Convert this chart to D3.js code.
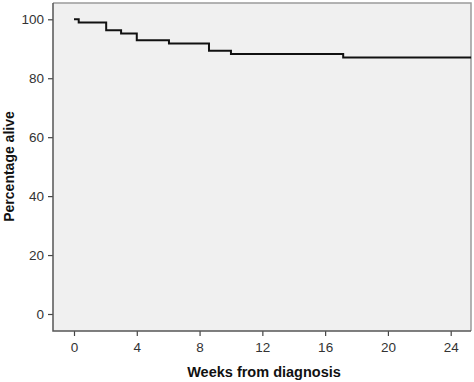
<!DOCTYPE html>
<html>
<head>
<meta charset="utf-8">
<script src="https://cdn.jsdelivr.net/npm/d3@7"></script>
<style>
  body { margin: 0; background: #fff; }
  text { font-family: "Liberation Sans", Arial, sans-serif; }
</style>
</head>
<body>
<div id="graph"></div>
<script>
const width = 474, height = 382;

// survival steps: week of the drop and percentage alive after it
const weeks = [0, 0.3, 2.05, 3.0, 4.0, 6.05, 8.6, 10.0, 17.15];
const alive = [100, 98.9, 96.3, 95.2, 92.9, 91.8, 89.3, 88.2, 87.0];
const endWeek = 25.3;
const xTicks = [0, 4, 8, 12, 16, 20, 24];
const yTicks = [0, 20, 40, 60, 80, 100];

const plot = {left: 53, top: 3, right: 471, bottom: 331};

let svg = d3.select("#graph")
    .append("svg")
    .attr("width", width)
    .attr("height", height);

let x = d3.scaleLinear()
    .domain([0, 24])
    .range([74, 450.7]);

let y = d3.scaleLinear()
    .domain([0, 100])
    .range([314, 19.3]);

// plot background
svg.append("rect")
    .attr("x", plot.left)
    .attr("y", plot.top)
    .attr("width", plot.right - plot.left)
    .attr("height", plot.bottom - plot.top)
    .attr("fill", "#f0f0f0");

// top and right border (lighter)
svg.append("path")
    .attr("d", `M${plot.left},${plot.top}H${plot.right}V${plot.bottom}`)
    .attr("fill", "none")
    .attr("stroke", "#9a9a9a")
    .attr("stroke-width", 1.5);

let x_axis = svg.append("g")
    .attr("transform", `translate(0, ${plot.bottom})`)
    .call(d3.axisBottom(x).tickValues(xTicks).tickSize(5).tickPadding(6).tickSizeOuter(0));

let y_axis = svg.append("g")
    .attr("transform", `translate(${plot.left}, 0)`)
    .call(d3.axisLeft(y).tickValues(yTicks).tickSize(5).tickPadding(4).tickSizeOuter(0));

[x_axis, y_axis].forEach(g => {
    g.select(".domain").remove();
    g.selectAll(".tick line").attr("stroke", "#444").attr("stroke-width", 1.2);
    g.selectAll(".tick text")
        .attr("fill", "#333")
        .style("font-size", "13.5px");
});

// left and bottom axis lines
svg.append("path")
    .attr("d", `M${plot.left},${plot.top}V${plot.bottom}H${plot.right}`)
    .attr("fill", "none")
    .attr("stroke", "#555")
    .attr("stroke-width", 1.5);

// step curve
let steps = weeks.map((w, i) => [w, alive[i]]);
steps.push([endWeek, alive[alive.length - 1]]);

let line = d3.line()
    .x(d => x(d[0]))
    .y(d => y(d[1]))
    .curve(d3.curveStepAfter);

svg.append("path")
    .datum(steps)
    .attr("d", line)
    .attr("fill", "none")
    .attr("stroke", "#111")
    .attr("stroke-width", 2);

svg.append("text")
    .attr("x", 264)
    .attr("y", 377)
    .style("text-anchor", "middle")
    .style("font-size", "14.5px")
    .style("font-weight", "bold")
    .attr("fill", "#111")
    .text("Weeks from diagnosis");

svg.append("text")
    .attr("transform", `translate(14, 166.5) rotate(-90)`)
    .style("text-anchor", "middle")
    .style("font-size", "14px")
    .style("font-weight", "bold")
    .attr("fill", "#111")
    .text("Percentage alive");
</script>
</body>
</html>
